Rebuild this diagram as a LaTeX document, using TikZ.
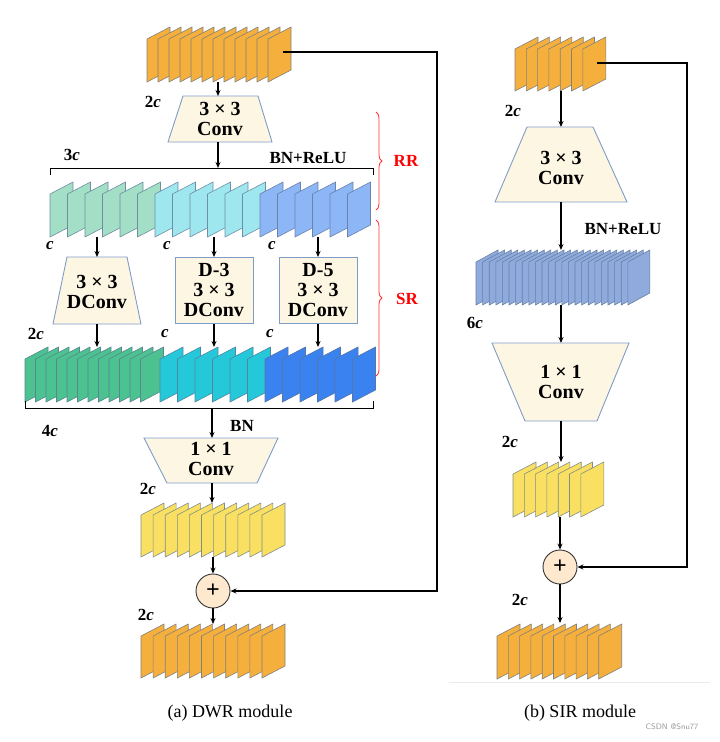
\documentclass[tikz,border=0pt]{standalone}
\usepackage{fontspec}
\setmainfont{Liberation Serif}
\usetikzlibrary{decorations.pathreplacing,arrows.meta}
\definecolor{org}{HTML}{F5AF3C}
\definecolor{yel}{HTML}{F9E063}
\definecolor{g1}{HTML}{A3DFC6}
\definecolor{c1}{HTML}{9FE7EE}
\definecolor{b1}{HTML}{8DB6F7}
\definecolor{g2}{HTML}{4CC290}
\definecolor{c2}{HTML}{25C8D8}
\definecolor{b2}{HTML}{3A82F0}
\definecolor{b3}{HTML}{8FAADC}
\definecolor{box}{HTML}{FDF6E3}
\definecolor{boxd}{HTML}{7F9CC8}
\newcommand\fmstack[8]{%
  \foreach \i in {1,...,#3}{%
    \pgfmathsetmacro\xx{#1+(\i-1)*#4}%
    \filldraw[fill=#8,draw=#8!55!black!45!boxd,line width=0.6pt]
      (\xx,#2+#7)--(\xx+#5,#2)--(\xx+#5,#2+#6-#7)--(\xx,#2+#6)--cycle;}}
\tikzset{lab/.style={font=\bfseries\fontsize{17}{19}\selectfont,inner sep=0pt},
  btxt/.style={font=\bfseries\fontsize{20}{20}\selectfont,align=center,inner sep=0pt},
  blk/.style={fill=box,draw=boxd,line width=0.9pt},
  arr/.style={-{Stealth[length=6pt,width=5pt]},line width=1.3pt},
  brc/.style={red!80,line width=0.8pt,decorate,decoration={brace,amplitude=6pt}},
  plus/.style={circle,fill=box!70!orange!50,draw=black!80,line width=0.9pt,minimum size=34pt,inner sep=0pt,font=\bfseries\fontsize{24}{24}\selectfont}}
\begin{document}
\begin{tikzpicture}[x=1pt,y=-1pt]
\useasboundingbox (0,0) rectangle (720,742);
% ===== left DWR =====
\fmstack{147}{27}{12}{11}{23}{55}{12}{org}
\coordinate (tin) at (218,82);
\coordinate (skA) at (283,52);
\node[lab] (l2c1) at (153,102) {2\textit{c}};
\draw[blk] (183,96)--(258,96)--(272,142)--(168,142)--cycle;
\node[btxt] (conv1) at (220,119) {3 × 3\\Conv};
\node[lab] (l3c) at (72,155) {3\textit{c}};
\node[lab] (bnrelu) at (308,158) {BN+ReLU};
\draw[line width=0.8pt] (50,175)--(50,168)--(373,168)--(373,175);
\coordinate (br1) at (218,168);
\draw[arr] (tin)--(218,96);
\draw[arr] (218,142)--(br1);
\fmstack{50}{182}{6}{17.5}{23}{55}{12}{g1}
\fmstack{155}{182}{6}{17.5}{23}{55}{12}{c1}
\fmstack{260}{182}{6}{17.5}{23}{55}{12}{b1}
\node[lab] at (50,246) {\textit{c}};
\node[lab] at (167,246) {\textit{c}};
\node[lab] at (272,246) {\textit{c}};
\draw[blk] (67,257)--(127,257)--(141,324)--(53,324)--cycle;
\node[btxt] (dc1) at (97,292) {3 × 3\\DConv};
\draw[blk] (175,257) rectangle (253,323);
\node[btxt] (dc2) at (214,290) {D-3\\3 × 3\\DConv};
\draw[blk] (279,257) rectangle (357,323);
\node[btxt] (dc3) at (318,290) {D-5\\3 × 3\\DConv};
\foreach \x in {97,214,318}{\draw[arr] (\x,237)--(\x,257); \draw[arr] (\x,324)--(\x,347);}
\node[lab] at (36,334) {2\textit{c}};
\node[lab] at (165,334) {\textit{c}};
\node[lab] at (270,334) {\textit{c}};
\fmstack{25}{347}{12}{10.5}{23}{55}{12}{g2}
\fmstack{160}{347}{6}{17.5}{23}{55}{12}{c2}
\fmstack{265}{347}{6}{17.5}{23}{55}{12}{b2}
\draw[line width=0.8pt] (25,401)--(25,408)--(373,408)--(373,401);
\node[lab] at (50,431) {4\textit{c}};
\node[lab] (bn) at (242,426) {BN};
\draw[arr] (212,408)--(212,438);
\draw[blk] (144,438)--(278,438)--(257,483)--(167,483)--cycle;
\node[btxt] (conv2) at (211,459) {1 × 1\\Conv};
\node[lab] at (148,489) {2\textit{c}};
\draw[arr] (212,483)--(212,503);
\fmstack{141}{503}{11}{12.1}{23}{54}{12}{yel}
\node[plus] (p1) at (213,591) {+};
\draw[arr] (213,557)--(p1.north);
\node[lab] at (146,615) {2\textit{c}};
\draw[arr] (p1.south)--(213,624);
\fmstack{141}{624}{11}{12.1}{23}{54}{12}{org}
\draw[line width=1.5pt,-{Stealth[length=6pt,width=5pt]}] (skA)--(437,52)--(437,591)--(p1.east);
\node[font=\fontsize{18}{20}\selectfont] (capA) at (230,713) {(a) DWR module};
% braces
\draw[brc] (376,112)--(376,210);
\node[font=\bfseries\fontsize{17}{19}\selectfont,text=red] (rr) at (406,161) {RR};
\draw[brc] (376,220)--(376,376);
\node[font=\bfseries\fontsize{17}{19}\selectfont,text=red] (sr) at (407,299) {SR};
% ===== right SIR =====
\fmstack{515}{37}{7}{11.3}{23}{54}{12}{org}
\coordinate (skB) at (597,63);
\node[lab] at (513,111) {2\textit{c}};
\draw[arr] (561,91)--(561,127);
\draw[blk] (527,127)--(593,127)--(627,202)--(495,202)--cycle;
\node[btxt] (conv3) at (561,168) {3 × 3\\Conv};
\draw[arr] (561,202)--(561,250);
\node[lab] at (623,229) {BN+ReLU};
\fmstack{476}{250}{24}{6.6}{22}{55}{12}{b3}
\node[lab] at (475,323) {6\textit{c}};
\draw[arr] (561,305)--(561,343);
\draw[blk] (492,343)--(629,343)--(597,421)--(525,421)--cycle;
\node[btxt] (conv4) at (561,382) {1 × 1\\Conv};
\node[lab] at (510,442) {2\textit{c}};
\draw[arr] (561,421)--(561,462);
\fmstack{513}{462}{7}{11.3}{23}{55}{12}{yel}
\node[plus] (p2) at (560,567) {+};
\draw[arr] (560,517)--(p2.north);
\node[lab] at (520,600) {2\textit{c}};
\draw[arr] (p2.south)--(560,623);
\fmstack{497}{624}{10}{11.3}{23}{55}{12}{org}
\draw[line width=1.5pt,-{Stealth[length=6pt,width=5pt]}] (skB)--(687,63)--(687,567)--(p2.east);
\draw[black!8,line width=1pt] (449,682)--(710,682);
\node[font=\fontsize{18}{20}\selectfont] (capB) at (580,713) {(b) SIR module};
\node[font=\sffamily\fontsize{8}{9}\selectfont,text=black!40] at (672,727) {CSDN @Snu77};
\end{tikzpicture}
\end{document}
